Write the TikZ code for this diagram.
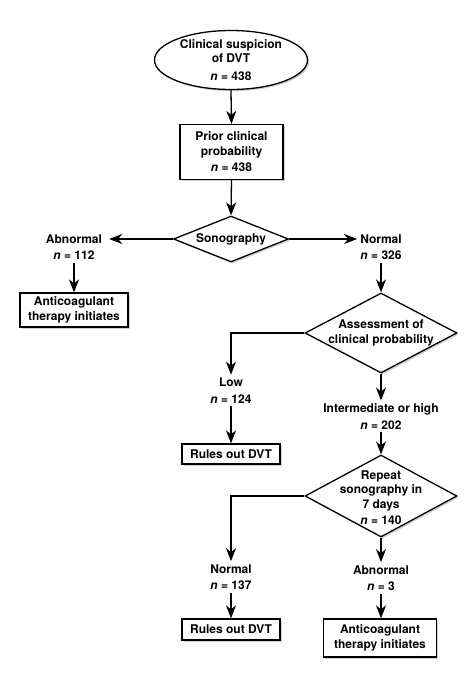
\documentclass[tikz,border=0pt]{standalone}
\usepackage{fontspec}
\setmainfont{TeX Gyre Heros}
\usetikzlibrary{shapes.geometric,arrows.meta,shadows}
\begin{document}
\begin{tikzpicture}[x=1pt,y=-1pt,
  every node/.style={font=\fontsize{12}{14.5}\selectfont\bfseries, align=center},
  shad/.style={drop shadow={shadow xshift=1.6pt,shadow yshift=-1.6pt,opacity=0.3,fill=black!60}},
  shp/.style={draw, line width=1.3pt, fill=white, shad, inner sep=0pt},
  box/.style={shp, rectangle},
  dia/.style={shp, diamond},
  txt/.style={inner sep=3pt},
  arr/.style={-{Stealth[length=13pt,width=10pt,inset=4pt]}, line width=1.3pt}]
\useasboundingbox[fill=white] (0,0) rectangle (474,689);

% nodes
\node[shp, ellipse, minimum width=153pt, minimum height=59pt] (start) at (231,60)
  {Clinical suspicion\\of DVT\\[3pt]\textit{n} = 438};
\node[box, minimum width=103pt, minimum height=55pt] (prior) at (231.5,152)
  {Prior clinical\\probability\\[2pt]\textit{n} = 438};
\node[dia, minimum width=115pt, minimum height=46pt] (sono) at (231,239) {};
\node[txt] (sonot) at (sono) {Sonography};

\node[txt] (abn) at (74,247) {Abnormal\\[2pt]\textit{n} = 112};
\node[txt] (nor1) at (381,247) {Normal\\[2pt]\textit{n} = 326};
\node[box, minimum width=108pt, minimum height=34pt] (anti1) at (74,310)
  {Anticoagulant\\therapy initiates};

\node[dia, minimum width=152pt, minimum height=80pt] (asm) at (381,333) {};
\node[txt] (asmt) at (asm) {Assessment of\\clinical probability};

\node[txt] (low) at (231,390.5) {Low\\[2pt]\textit{n} = 124};
\node[box, minimum width=98pt, minimum height=20pt] (rod1) at (231,454) {Rules out DVT};
\node[txt] (inter) at (381,416.5) {Intermediate or high\\[2pt]\textit{n} = 202};

\node[dia, minimum width=152pt, minimum height=82pt] (rep) at (381,496) {};
\node[txt] (rept) at (381,497.5) {Repeat\\sonography in\\7 days\\[2pt]\textit{n} = 140};

\node[txt] (nor2) at (231,577) {Normal\\[2pt]\textit{n} = 137};
\node[txt] (abn2) at (381,578) {Abnormal\\[2pt]\textit{n} = 3};
\node[box, minimum width=98pt, minimum height=21pt] (rod2) at (231,629.5) {Rules out DVT};
\node[box, minimum width=113pt, minimum height=38pt] (anti2) at (380,638)
  {Anticoagulant\\therapy initiates};

% connectors
\draw[arr] (start.south) -- (prior.north);
\draw[arr] (prior.south) -- (sono.north);
\draw[arr] (sono.west) -- ([xshift=4pt]sono.west -| abn.east);
\draw[arr] (sono.east) -- (sono.east -| nor1.west);
\draw[arr] (abn.south) -- (anti1.north);
\draw[arr] (nor1.south) -- (asm.north);
\draw[arr] (asm.west) -| (low.north);
\draw[arr] (low.south) -- (rod1.north);
\draw[arr] (asm.south) -- (inter.north);
\draw[arr] (inter.south) -- (rep.north);
\draw[arr] (rep.west) -| (nor2.north);
\draw[arr] (rep.south) -- (abn2.north);
\draw[arr] (nor2.south) -- (rod2.north);
\draw[arr] (abn2.south) -- (abn2.south |- anti2.north);
\end{tikzpicture}
\end{document}
